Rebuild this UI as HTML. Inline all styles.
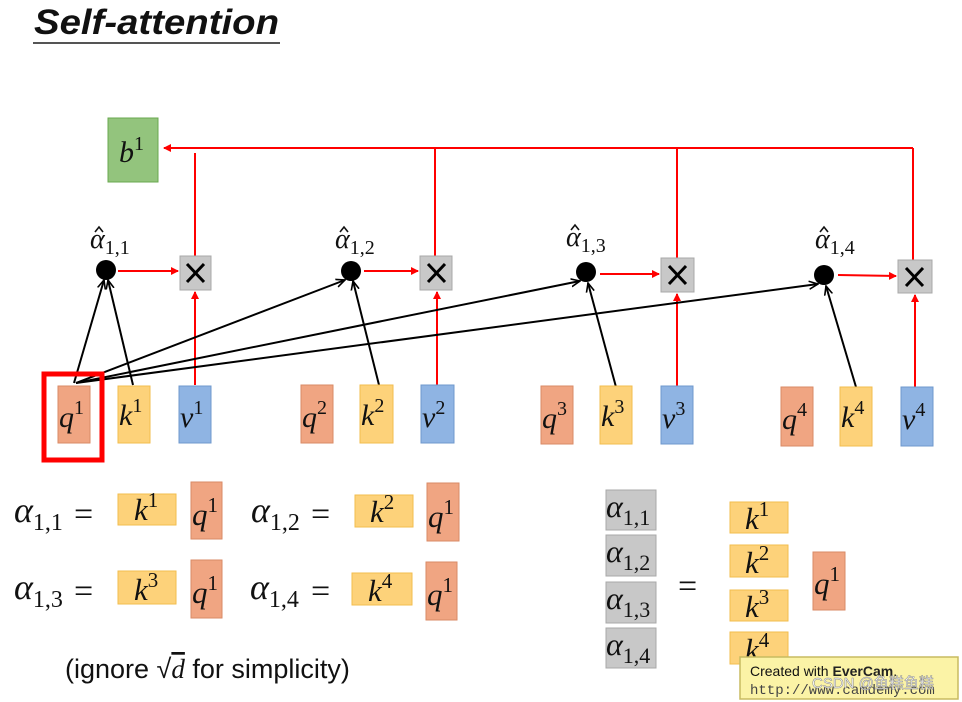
<!DOCTYPE html>
<html><head><meta charset="utf-8"><style>
html,body{margin:0;padding:0;background:#fff;width:962px;height:702px;overflow:hidden}
svg{display:block}
.m{font-family:"Liberation Serif",serif;font-style:italic;fill:#111}
.s{font-family:"Liberation Sans",sans-serif;fill:#111}
.q{fill:#f0a582;stroke:#d98a66;stroke-width:1}
.k{fill:#fdd27a;stroke:#f2bd4e;stroke-width:1}
.v{fill:#8fb4e3;stroke:#6f98cc;stroke-width:1}
.g{fill:#c8c8c8;stroke:#a8a8a8;stroke-width:1}
.sb{font-style:normal;font-family:"Liberation Serif",serif}
</style></head><body>
<svg width="962" height="702" viewBox="0 0 962 702" xmlns="http://www.w3.org/2000/svg">
<defs>
<marker id="ar" markerWidth="8" markerHeight="8" refX="7" refY="4" orient="auto" markerUnits="userSpaceOnUse"><path d="M0,0 L8,4 L0,8 z" fill="#f00"/></marker>
<marker id="ab" markerWidth="10" markerHeight="10" refX="9" refY="5" orient="auto" markerUnits="userSpaceOnUse"><path d="M0,1 L9,5 L0,9" fill="none" stroke="#000" stroke-width="1.6"/></marker>
</defs>
<text x="34" y="34" font-family="Liberation Sans,sans-serif" font-weight="bold" font-style="italic" font-size="35" fill="#111" textLength="245" lengthAdjust="spacingAndGlyphs">Self-attention</text>
<line x1="33" y1="43" x2="280" y2="43" stroke="#555" stroke-width="2"/>

<rect x="108" y="118" width="50" height="64" fill="#93c47d" stroke="#6aa84f"/>
<text x="119" y="162" class="m" font-size="30">b<tspan class="sb" font-size="20" dy="-12">1</tspan></text>

<g stroke="#f00" stroke-width="2" fill="none">
<line x1="913" y1="148" x2="164" y2="148" marker-end="url(#ar)"/>
<line x1="195" y1="153" x2="195" y2="256"/>
<line x1="435" y1="148" x2="435" y2="256"/>
<line x1="677" y1="148" x2="677" y2="258"/>
<line x1="913" y1="148" x2="913" y2="260"/>
<line x1="118" y1="271" x2="178" y2="271" marker-end="url(#ar)"/>
<line x1="364" y1="271" x2="418" y2="271" marker-end="url(#ar)"/>
<line x1="600" y1="274" x2="659" y2="274" marker-end="url(#ar)"/>
<line x1="838" y1="275" x2="896" y2="276" marker-end="url(#ar)"/>
<line x1="195" y1="385" x2="195" y2="292" marker-end="url(#ar)"/>
<line x1="437" y1="385" x2="437" y2="292" marker-end="url(#ar)"/>
<line x1="677" y1="386" x2="677" y2="294" marker-end="url(#ar)"/>
<line x1="915" y1="387" x2="915" y2="295" marker-end="url(#ar)"/>
</g>

<g>
<rect x="180" y="256" width="31" height="34" class="g"/>
<rect x="420" y="256" width="32" height="34" class="g"/>
<rect x="661" y="258" width="33" height="34" class="g"/>
<rect x="898" y="260" width="34" height="33" class="g"/>
</g>
<g stroke="#000" stroke-width="3">
<path d="M187,264 L204,282 M204,264 L187,282"/>
<path d="M428,264 L445,282 M445,264 L428,282"/>
<path d="M669,266 L686,284 M686,266 L669,284"/>
<path d="M906,268 L923,286 M923,268 L906,286"/>
</g>

<g fill="#000">
<circle cx="106" cy="270" r="10"/>
<circle cx="351" cy="271" r="10"/>
<circle cx="586" cy="272" r="10"/>
<circle cx="824" cy="275" r="10"/>
</g>
<g class="m" font-size="28">
<text x="90" y="248">α<tspan class="sb" font-size="20" dy="6">1,1</tspan></text>
<text x="335" y="248">α<tspan class="sb" font-size="20" dy="6">1,2</tspan></text>
<text x="566" y="246">α<tspan class="sb" font-size="20" dy="6">1,3</tspan></text>
<text x="815" y="248">α<tspan class="sb" font-size="20" dy="6">1,4</tspan></text>
</g>
<g stroke="#111" stroke-width="1.6" fill="none">
<path d="M95,232 L99,227 L103,232"/>
<path d="M340,232 L344,227 L348,232"/>
<path d="M571,230 L575,225 L579,230"/>
<path d="M820,232 L824,227 L828,232"/>
</g>

<g stroke="#000" stroke-width="2" fill="none">
<line x1="74" y1="383" x2="104" y2="280" marker-end="url(#ab)"/>
<line x1="133" y1="385" x2="108" y2="280" marker-end="url(#ab)"/>
<line x1="76" y1="383" x2="345" y2="280" marker-end="url(#ab)"/>
<line x1="76" y1="383" x2="580" y2="281" marker-end="url(#ab)"/>
<line x1="76" y1="383" x2="818" y2="284" marker-end="url(#ab)"/>
<line x1="379" y1="385" x2="353" y2="281" marker-end="url(#ab)"/>
<line x1="616" y1="387" x2="588" y2="283" marker-end="url(#ab)"/>
<line x1="856" y1="387" x2="826" y2="286" marker-end="url(#ab)"/>
</g>

<rect x="44" y="374" width="58" height="86" fill="none" stroke="#f00" stroke-width="5"/>
<g>
<rect x="58" y="386" width="32" height="57" class="q"/>
<rect x="118" y="386" width="32" height="57" class="k"/>
<rect x="179" y="386" width="32" height="57" class="v"/>
<rect x="301" y="385" width="32" height="58" class="q"/>
<rect x="360" y="385" width="33" height="58" class="k"/>
<rect x="421" y="385" width="33" height="58" class="v"/>
<rect x="541" y="386" width="32" height="58" class="q"/>
<rect x="600" y="386" width="32" height="58" class="k"/>
<rect x="661" y="386" width="32" height="58" class="v"/>
<rect x="781" y="387" width="32" height="59" class="q"/>
<rect x="840" y="387" width="32" height="59" class="k"/>
<rect x="901" y="387" width="32" height="59" class="v"/>
</g>
<g class="m" font-size="30">
<text x="59" y="427">q<tspan class="sb" font-size="20" dy="-13">1</tspan></text>
<text x="119" y="425">k<tspan class="sb" font-size="20" dy="-13">1</tspan></text>
<text x="180" y="427">v<tspan class="sb" font-size="20" dy="-13">1</tspan></text>
<text x="302" y="427">q<tspan class="sb" font-size="20" dy="-13">2</tspan></text>
<text x="361" y="425">k<tspan class="sb" font-size="20" dy="-13">2</tspan></text>
<text x="422" y="427">v<tspan class="sb" font-size="20" dy="-13">2</tspan></text>
<text x="542" y="428">q<tspan class="sb" font-size="20" dy="-13">3</tspan></text>
<text x="601" y="426">k<tspan class="sb" font-size="20" dy="-13">3</tspan></text>
<text x="662" y="428">v<tspan class="sb" font-size="20" dy="-13">3</tspan></text>
<text x="782" y="429">q<tspan class="sb" font-size="20" dy="-13">4</tspan></text>
<text x="841" y="427">k<tspan class="sb" font-size="20" dy="-13">4</tspan></text>
<text x="902" y="429">v<tspan class="sb" font-size="20" dy="-13">4</tspan></text>
</g>

<g>
<rect x="118" y="494" width="58" height="31" class="k"/>
<rect x="191" y="482" width="31" height="57" class="q"/>
<rect x="355" y="495" width="58" height="32" class="k"/>
<rect x="427" y="483" width="32" height="58" class="q"/>
<rect x="118" y="571" width="58" height="33" class="k"/>
<rect x="191" y="560" width="31" height="58" class="q"/>
<rect x="352" y="573" width="60" height="32" class="k"/>
<rect x="426" y="562" width="31" height="58" class="q"/>
</g>
<g class="m" font-size="36">
<text x="14" y="522">α<tspan class="sb" font-size="24" dy="8">1,1</tspan></text>
<text x="74" y="525" class="sb" font-size="34">=</text>
<text x="134" y="520" font-size="31">k<tspan class="sb" font-size="21" dy="-13">1</tspan></text>
<text x="192" y="525" font-size="31">q<tspan class="sb" font-size="21" dy="-13">1</tspan></text>
<text x="251" y="522">α<tspan class="sb" font-size="24" dy="8">1,2</tspan></text>
<text x="311" y="525" class="sb" font-size="34">=</text>
<text x="370" y="522" font-size="31">k<tspan class="sb" font-size="21" dy="-13">2</tspan></text>
<text x="428" y="527" font-size="31">q<tspan class="sb" font-size="21" dy="-13">1</tspan></text>
<text x="14" y="599">α<tspan class="sb" font-size="24" dy="8">1,3</tspan></text>
<text x="74" y="602" class="sb" font-size="34">=</text>
<text x="134" y="600" font-size="31">k<tspan class="sb" font-size="21" dy="-13">3</tspan></text>
<text x="192" y="603" font-size="31">q<tspan class="sb" font-size="21" dy="-13">1</tspan></text>
<text x="250" y="599">α<tspan class="sb" font-size="24" dy="8">1,4</tspan></text>
<text x="311" y="602" class="sb" font-size="34">=</text>
<text x="368" y="601" font-size="31">k<tspan class="sb" font-size="21" dy="-13">4</tspan></text>
<text x="427" y="605" font-size="31">q<tspan class="sb" font-size="21" dy="-13">1</tspan></text>
</g>
<text x="65" y="678" class="s" font-size="27">(ignore √<tspan font-family="Liberation Serif,serif" font-style="italic" text-decoration="overline">d</tspan> for simplicity)</text>

<g>
<rect x="606" y="490" width="50" height="40" class="g"/>
<rect x="606" y="535" width="50" height="41" class="g"/>
<rect x="606" y="582" width="50" height="41" class="g"/>
<rect x="606" y="628" width="50" height="40" class="g"/>
<rect x="730" y="502" width="58" height="31" class="k"/>
<rect x="730" y="545" width="58" height="32" class="k"/>
<rect x="730" y="590" width="58" height="31" class="k"/>
<rect x="730" y="632" width="58" height="32" class="k"/>
<rect x="813" y="552" width="32" height="58" class="q"/>
</g>
<g class="m" font-size="32">
<text x="606" y="517">α<tspan class="sb" font-size="22" dy="8">1,1</tspan></text>
<text x="606" y="562">α<tspan class="sb" font-size="22" dy="8">1,2</tspan></text>
<text x="606" y="609">α<tspan class="sb" font-size="22" dy="8">1,3</tspan></text>
<text x="606" y="655">α<tspan class="sb" font-size="22" dy="8">1,4</tspan></text>
<text x="678" y="597" class="sb" font-size="34">=</text>
<text x="745" y="529" font-size="31">k<tspan class="sb" font-size="21" dy="-13">1</tspan></text>
<text x="745" y="573" font-size="31">k<tspan class="sb" font-size="21" dy="-13">2</tspan></text>
<text x="745" y="617" font-size="31">k<tspan class="sb" font-size="21" dy="-13">3</tspan></text>
<text x="745" y="660" font-size="31">k<tspan class="sb" font-size="21" dy="-13">4</tspan></text>
<text x="814" y="594" font-size="31">q<tspan class="sb" font-size="21" dy="-13">1</tspan></text>
</g>

<rect x="740" y="657" width="218" height="42" fill="#fbf3a6" stroke="#c8bb60" stroke-width="1.5"/>
<text x="750" y="676" class="s" font-size="14" fill="#444">Created with <tspan font-weight="bold" fill="#222">EverCam</tspan>.</text>
<text x="750" y="694" font-family="Liberation Mono,monospace" font-size="14" fill="#444">http://www.camdemy.com</text>
<text x="812" y="688" font-family="Liberation Sans,'Noto Sans CJK SC',sans-serif" font-size="15" fill="#fff" stroke="#888" stroke-width="0.5">CSDN @鱼糕鱼糕</text>
</svg>
</body></html>
